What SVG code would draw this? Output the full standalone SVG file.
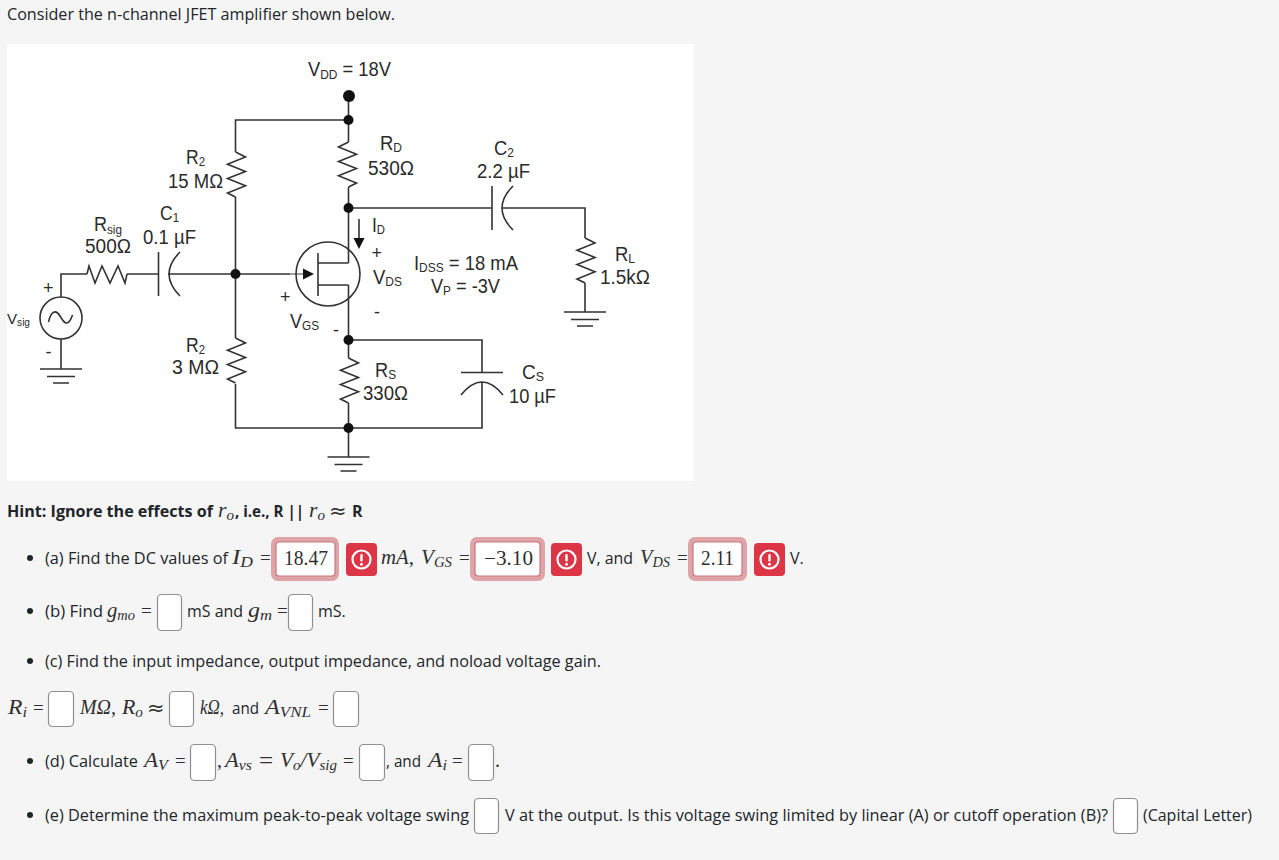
<svg xmlns="http://www.w3.org/2000/svg" width="1279" height="860" viewBox="0 0 1279 860">
<style>
.w{fill:none;stroke:#333;stroke-width:1.6;stroke-linejoin:miter}
.d{fill:#111;stroke:none}
.c{font-family:"Liberation Sans",Arial,sans-serif;font-size:20px;fill:#2b2b2b}
.s{font-size:13px}
.p{font-size:18px}
.t{font-family:"Open Sans","Noto Sans",sans-serif;font-size:16px;fill:#212529}
.b{font-weight:700}
.m{font-family:"Liberation Serif","Times New Roman",serif;font-size:20px;fill:#2f2f2f}
.e{font-size:19px}
.a{font-family:"DejaVu Sans",sans-serif;font-size:21px;fill:#2f2f2f}
.i{font-style:italic}
.ms{font-size:14px}
.box{fill:#fff;stroke:#8f8f8f;stroke-width:1.2}
.halo{fill:#dfa4a8;stroke:none}
.inner{fill:#fff;stroke:#c9777f;stroke-width:1.2}
.btn{fill:#dc3545;stroke:none}
.ring{fill:none;stroke:#fff;stroke-width:2.2}
.bang{fill:#fff;stroke:none}
.bul{fill:#212529;stroke:none}
</style>
<defs>
<path id="rz" class="w" d="M0,0 l10,5 l-18,7.2 l18,7.2 l-18,7.2 l18,7.2 l-18,7.2 l8,4"/>
<g id="gnd">
<path class="w" d="M-21,0H21M-14,7.500H14M-8,14H8"/>
</g>
<g id="err">
<rect class="btn" width="31" height="33" rx="4"/>
<circle class="ring" cx="15.500" cy="16.500" r="9"/>
<rect class="bang" x="14.300" y="11" width="2.400" height="7.500" rx="1"/>
<circle class="bang" cx="15.500" cy="21.300" r="1.500"/>
</g>
</defs>
<rect width="1279" height="860" fill="#f5f5f5"/>
<text class="t" x="7" y="20" textLength="388" lengthAdjust="spacingAndGlyphs">Consider the n-channel JFET amplifier shown below.</text>
<rect x="7" y="44" width="687" height="437" fill="#fff"/>
<g id="connectors">
<path class="w" d="M348.500,96V142M348.500,187V263M348.500,285V358M348.500,403V457"/>
<path class="w" d="M348.500,120H235.500V152M235.500,197V338M235.500,384V428H348.500"/>
<path class="w" d="M61,297V274H87M127,274H158.500M168,274H290"/>
<path class="w" d="M61,339V369"/>
<path class="w" d="M348.500,208H492M502,208H585V238M585,283V312"/>
<path class="w" d="M348.500,340H482V372.500M482,382V428H348.500"/>
<path class="w" d="M290,274H304" stroke-opacity=".6"/>
</g>
<g id="n-vdd"><circle class="d" cx="349" cy="96" r="6"/><text class="c" x="308" y="76" textLength="83" lengthAdjust="spacingAndGlyphs">V<tspan class="s" dy="3">DD</tspan><tspan dy="-3"> = 18V</tspan></text></g>
<g id="junctions">
<circle class="d" cx="348.500" cy="120" r="5"/><circle class="d" cx="348.500" cy="208" r="5"/><circle class="d" cx="348.500" cy="340" r="5"/><circle class="d" cx="348.500" cy="428" r="5"/><circle class="d" cx="235.500" cy="274" r="5"/>
</g>
<g id="r1"><use href="#rz" x="235.500" y="152"/><text class="c" x="186" y="164" textLength="19" lengthAdjust="spacingAndGlyphs">R<tspan class="s" dy="2">2</tspan></text><text class="c" x="168" y="188" textLength="55" lengthAdjust="spacingAndGlyphs">15 MΩ</text></g>
<g id="r2"><use href="#rz" x="235.500" y="338"/><text class="c" x="186" y="352" textLength="19" lengthAdjust="spacingAndGlyphs">R<tspan class="s" dy="2">2</tspan></text><text class="c" x="172" y="374" textLength="47" lengthAdjust="spacingAndGlyphs">3 MΩ</text></g>
<g id="rsig"><path class="w" d="M87,274 L89,266 L95,283 L102,266 L110,283 L118,266 L125,283 L127,274"/><text class="c" x="94" y="231" textLength="28" lengthAdjust="spacingAndGlyphs">R<tspan class="s" dy="3">sig</tspan></text><text class="c" x="85" y="253" textLength="46" lengthAdjust="spacingAndGlyphs">500Ω</text></g>
<g id="c1"><path class="w" d="M158.500,252V296M180,252Q158,274 180,296"/><text class="c" x="160" y="220" textLength="19" lengthAdjust="spacingAndGlyphs">C<tspan class="s" dy="2">1</tspan></text><text class="c" x="143" y="244" textLength="53" lengthAdjust="spacingAndGlyphs">0.1 µF</text></g>
<g id="vsig"><circle class="w" cx="61" cy="318" r="21"/><path class="w" d="M48.500,322C51,311 56,309 60,316S68,328 72.500,315"/><text class="c" x="7" y="324" style="font-size:15px" textLength="23" lengthAdjust="spacingAndGlyphs">V<tspan style="font-size:10px" dy="2">sig</tspan></text><text class="c p" x="43" y="294">+</text><text class="c p" x="45.500" y="358">-</text><use href="#gnd" x="61" y="369"/></g>
<g id="rd"><use href="#rz" transform="translate(697,0) scale(-1,1)" x="348.500" y="142"/><text class="c" x="380" y="150" textLength="22" lengthAdjust="spacingAndGlyphs">R<tspan class="s" dy="2">D</tspan></text><text class="c" x="368" y="175" textLength="46" lengthAdjust="spacingAndGlyphs">530Ω</text></g>
<g id="c2"><path class="w" d="M492,186V230M513,186Q491,208 513,230"/><text class="c" x="494" y="155" textLength="20" lengthAdjust="spacingAndGlyphs">C<tspan class="s" dy="2">2</tspan></text><text class="c" x="477" y="178" textLength="53" lengthAdjust="spacingAndGlyphs">2.2 µF</text></g>
<g id="rl"><use href="#rz" x="585" y="238"/><use href="#gnd" x="585" y="312"/><text class="c" x="615" y="261" textLength="20" lengthAdjust="spacingAndGlyphs">R<tspan class="s" dy="2">L</tspan></text><text class="c" x="600" y="284" textLength="50" lengthAdjust="spacingAndGlyphs">1.5kΩ</text></g>
<g id="jfet"><circle class="w" cx="328" cy="274" r="32"/><path class="w" d="M318,253V296M318,263H348.500M318,285H348.500"/><path class="d" d="M303,268.500L314,274L303,279.500Z"/></g>
<g id="id-arrow"><path class="w" d="M359,219V240"/><path class="d" d="M353.500,238H364.500L359,249Z"/><text class="c" x="372" y="232" textLength="13" lengthAdjust="spacingAndGlyphs">I<tspan class="s" dy="2">D</tspan></text></g>
<g id="vds"><text class="c p" x="371.500" y="259">+</text><text class="c" x="373" y="284" textLength="29" lengthAdjust="spacingAndGlyphs">V<tspan class="s" dy="2">DS</tspan></text><text class="c p" x="374" y="318">-</text></g>
<g id="vgs"><text class="c p" x="280" y="303">+</text><text class="c" x="290" y="328" textLength="29" lengthAdjust="spacingAndGlyphs">V<tspan class="s" dy="2">GS</tspan></text><text class="c p" x="333" y="336">-</text></g>
<g id="params"><text class="c" x="414" y="270" textLength="104" lengthAdjust="spacingAndGlyphs">I<tspan class="s" dy="2">DSS</tspan><tspan dy="-2"> = 18 mA</tspan></text><text class="c" x="431" y="293" textLength="69" lengthAdjust="spacingAndGlyphs">V<tspan class="s" dy="2">P</tspan><tspan dy="-2"> = -3V</tspan></text></g>
<g id="rs"><use href="#rz" x="348.500" y="358"/><use href="#gnd" x="348.500" y="457"/><text class="c" x="375" y="377" textLength="21" lengthAdjust="spacingAndGlyphs">R<tspan class="s" dy="2">S</tspan></text><text class="c" x="363" y="400" textLength="45" lengthAdjust="spacingAndGlyphs">330Ω</text></g>
<g id="cs"><path class="w" d="M461,372.500H503M461,395Q482,369 503,395"/><text class="c" x="522" y="379" textLength="22" lengthAdjust="spacingAndGlyphs">C<tspan class="s" dy="2">S</tspan></text><text class="c" x="509" y="403" textLength="47" lengthAdjust="spacingAndGlyphs">10 µF</text></g>

<g id="hint">
<text class="t b" x="7" y="517" textLength="206" lengthAdjust="spacingAndGlyphs">Hint: Ignore the effects of</text>
<text class="m i" x="218" y="517" textLength="16" lengthAdjust="spacingAndGlyphs">r<tspan class="ms" dy="3">o</tspan></text>
<text class="t b" x="235" y="517" textLength="69" lengthAdjust="spacingAndGlyphs">, i.e., R ||</text>
<text class="m i" x="309" y="517" textLength="16" lengthAdjust="spacingAndGlyphs">r<tspan class="ms" dy="3">o</tspan></text>
<text class="a" x="329" y="518">≈</text>
<text class="t b" x="352" y="517">R</text>
</g>

<g id="q-a">
<circle class="bul" cx="30" cy="558" r="3"/>
<text class="t" x="45" y="564" textLength="183" lengthAdjust="spacingAndGlyphs">(a) Find the DC values of</text>
<text class="m i" x="232" y="564" textLength="21" lengthAdjust="spacingAndGlyphs">I<tspan class="ms" dy="3">D</tspan></text>
<text class="m e" x="260" y="564">=</text>
<rect class="halo" x="271" y="537" width="68" height="44" rx="7"/><rect class="inner" x="276" y="542" width="59" height="34" rx="3"/>
<text class="m" x="284" y="564.500" textLength="44" lengthAdjust="spacingAndGlyphs">18.47</text>
<use href="#err" x="346" y="543"/>
<text class="m i" x="381" y="564" textLength="33" lengthAdjust="spacingAndGlyphs">mA,</text>
<text class="m i" x="421" y="564" textLength="31" lengthAdjust="spacingAndGlyphs">V<tspan class="ms" dy="3">GS</tspan></text>
<text class="m e" x="459" y="564">=</text>
<rect class="halo" x="470" y="537" width="75" height="44" rx="7"/><rect class="inner" x="475" y="542" width="65" height="34" rx="3"/>
<text class="m" x="484" y="564.500" textLength="49" lengthAdjust="spacingAndGlyphs">−3.10</text>
<use href="#err" x="551" y="543"/>
<text class="t" x="587" y="564" textLength="46" lengthAdjust="spacingAndGlyphs">V, and</text>
<text class="m i" x="640" y="564" textLength="30" lengthAdjust="spacingAndGlyphs">V<tspan class="ms" dy="3">DS</tspan></text>
<text class="m e" x="677" y="564">=</text>
<rect class="halo" x="688" y="537" width="59" height="44" rx="7"/><rect class="inner" x="693" y="542" width="49" height="34" rx="3"/>
<text class="m" x="701" y="564.500" textLength="33" lengthAdjust="spacingAndGlyphs">2.11</text>
<use href="#err" x="754" y="543"/>
<text class="t" x="790" y="564">V.</text>
</g>

<g id="q-b">
<circle class="bul" cx="30" cy="611" r="3"/>
<text class="t" x="45" y="617" textLength="58" lengthAdjust="spacingAndGlyphs">(b) Find</text>
<text class="m i" x="107" y="617" textLength="28" lengthAdjust="spacingAndGlyphs">g<tspan class="ms" dy="3">mo</tspan></text>
<text class="m e" x="141" y="617">=</text>
<rect class="box" x="157.500" y="594.500" width="24" height="36" rx="4"/>
<text class="t" x="187" y="617" textLength="56" lengthAdjust="spacingAndGlyphs">mS and</text>
<text class="m i" x="248" y="617" textLength="24" lengthAdjust="spacingAndGlyphs">g<tspan class="ms" dy="3">m</tspan></text>
<text class="m e" x="277" y="617">=</text>
<rect class="box" x="288.500" y="594.500" width="24" height="36" rx="4"/>
<text class="t" x="318" y="617">mS.</text>
</g>

<g id="q-c">
<circle class="bul" cx="30" cy="661" r="3"/>
<text class="t" x="45" y="667" textLength="556" lengthAdjust="spacingAndGlyphs">(c) Find the input impedance, output impedance, and noload voltage gain.</text>
<text class="m i" x="8" y="714" textLength="19" lengthAdjust="spacingAndGlyphs">R<tspan class="ms" dy="3">i</tspan></text>
<text class="m e" x="33" y="714">=</text>
<rect class="box" x="48.500" y="691.500" width="25" height="35" rx="4"/>
<text class="m i" x="80" y="714" textLength="36" lengthAdjust="spacingAndGlyphs">MΩ,</text>
<text class="m i" x="122" y="714" textLength="21" lengthAdjust="spacingAndGlyphs">R<tspan class="ms" dy="3">o</tspan></text>
<text class="a" x="147" y="715">≈</text>
<rect class="box" x="169.500" y="691.500" width="24" height="35" rx="4"/>
<text class="m i" x="200" y="714" textLength="24" lengthAdjust="spacingAndGlyphs">kΩ,</text>
<text class="t" x="232" y="714" textLength="27" lengthAdjust="spacingAndGlyphs">and</text>
<text class="m i" x="265" y="714" textLength="46" lengthAdjust="spacingAndGlyphs">A<tspan class="ms" dy="3">VNL</tspan></text>
<text class="m e" x="318" y="714">=</text>
<rect class="box" x="333.500" y="691.500" width="25" height="35" rx="4"/>
</g>

<g id="q-d">
<circle class="bul" cx="30" cy="761" r="3"/>
<text class="t" x="45" y="767" textLength="93" lengthAdjust="spacingAndGlyphs">(d) Calculate</text>
<text class="m i" x="144" y="767" textLength="24" lengthAdjust="spacingAndGlyphs">A<tspan class="ms" dy="3">V</tspan></text>
<text class="m e" x="175" y="767">=</text>
<rect class="box" x="190.500" y="744.500" width="25" height="36" rx="4"/>
<text class="m" x="217" y="767">,</text>
<text class="m i" x="225" y="767" textLength="27" lengthAdjust="spacingAndGlyphs">A<tspan class="ms" dy="3">vs</tspan></text>
<text class="m" style="font-size:25px" x="259" y="769">=</text>
<text class="m i" x="280" y="767" textLength="57" lengthAdjust="spacingAndGlyphs">V<tspan class="ms" dy="3">o</tspan><tspan dy="-3">/V</tspan><tspan class="ms" dy="3">sig</tspan></text>
<text class="m e" x="343" y="767">=</text>
<rect class="box" x="359.500" y="744.500" width="25" height="36" rx="4"/>
<text class="t" x="386" y="767" textLength="35" lengthAdjust="spacingAndGlyphs">, and</text>
<text class="m i" x="428" y="767" textLength="19" lengthAdjust="spacingAndGlyphs">A<tspan class="ms" dy="3">i</tspan></text>
<text class="m e" x="452" y="767">=</text>
<rect class="box" x="468.500" y="744.500" width="25" height="36" rx="4"/>
<text class="m" x="495" y="767">.</text>
</g>

<g id="q-e">
<circle class="bul" cx="30" cy="815" r="3"/>
<text class="t" x="45" y="821" textLength="424" lengthAdjust="spacingAndGlyphs">(e) Determine the maximum peak-to-peak voltage swing</text>
<rect class="box" x="474.500" y="798.500" width="24" height="35" rx="4"/>
<text class="t" x="505" y="821" textLength="603" lengthAdjust="spacingAndGlyphs">V at the output. Is this voltage swing limited by linear (A) or cutoff operation (B)?</text>
<rect class="box" x="1113.500" y="798.500" width="24" height="35" rx="4"/>
<text class="t" x="1143" y="821" textLength="109" lengthAdjust="spacingAndGlyphs">(Capital Letter)</text>
</g>
</svg>
